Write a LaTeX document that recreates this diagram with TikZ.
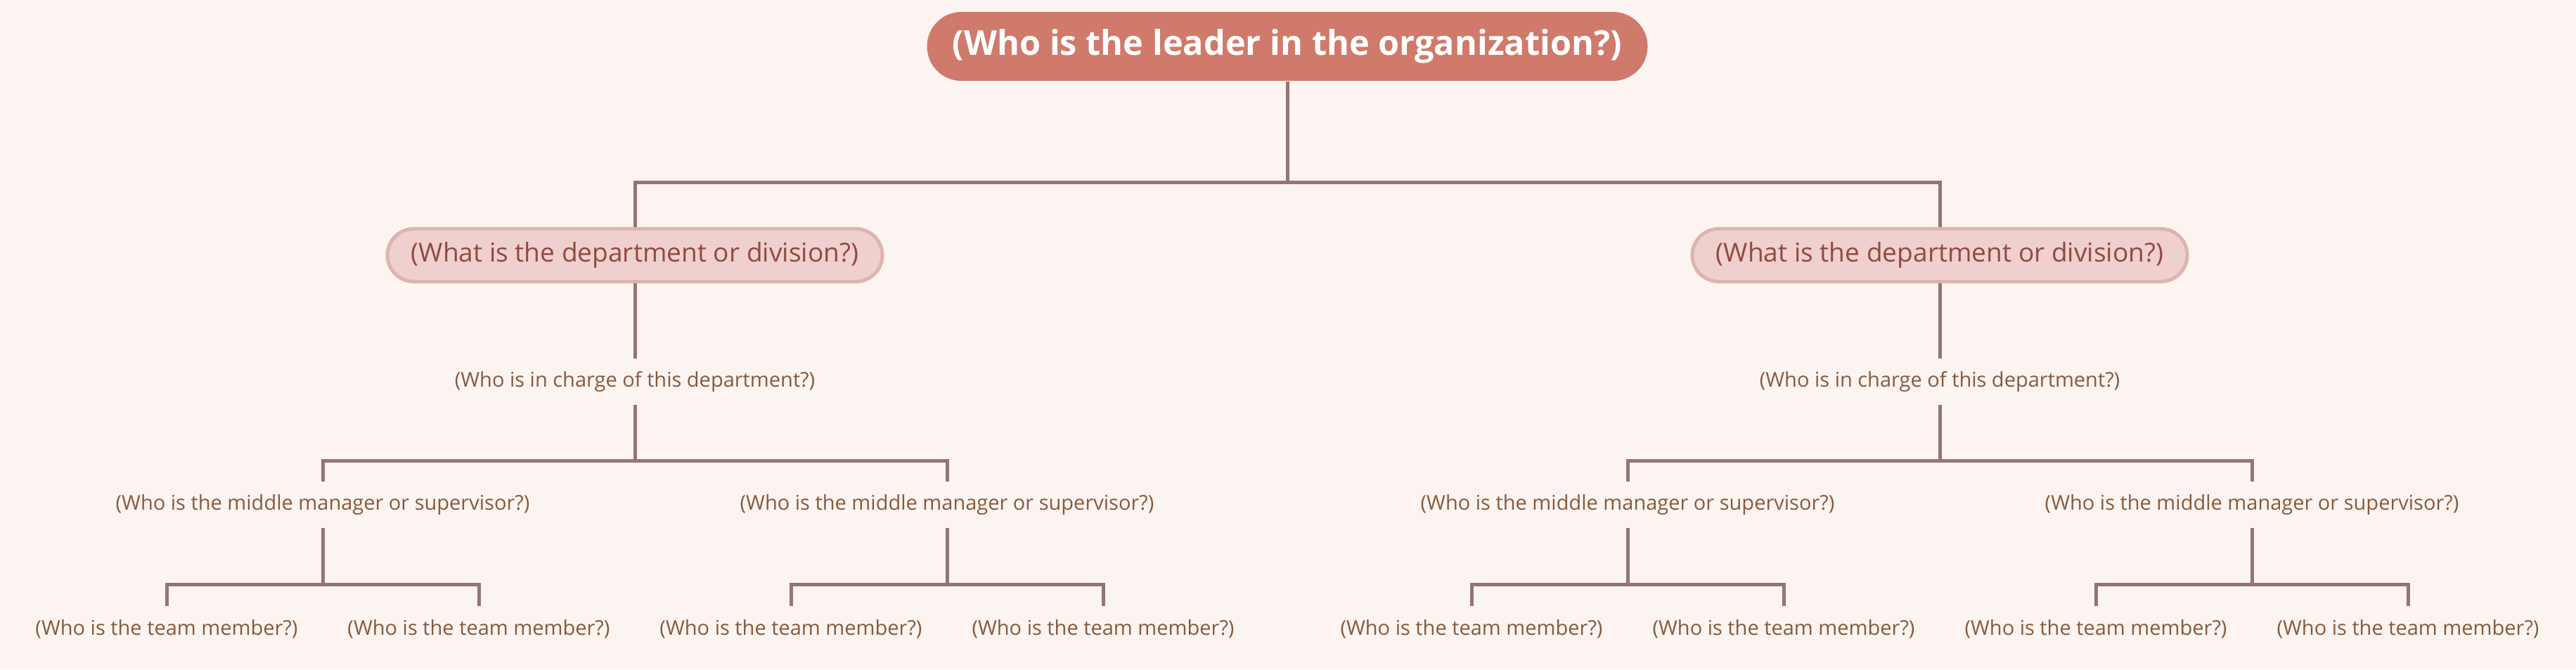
\documentclass[tikz,border=0pt]{standalone}
\usepackage{fontspec}
\setmainfont{Open Sans}
\usetikzlibrary{positioning}
\definecolor{bgpink}{HTML}{FCF4F1}
\definecolor{rootred}{HTML}{CF7A6A}
\definecolor{deptfill}{HTML}{F0D0CE}
\definecolor{deptline}{HTML}{DDB4AF}
\definecolor{depttext}{HTML}{8F4A42}
\definecolor{asktextc}{HTML}{875A3C}
\definecolor{linkc}{HTML}{947572}

\begin{document}
\begin{tikzpicture}[
    rootbox/.style={fill=rootred, text=white, font=\fontsize{13.85}{17}\selectfont\bfseries,
        rounded corners=0.49cm, minimum width=10.25cm, minimum height=0.98cm, inner sep=0pt},
    deptbox/.style={fill=deptfill, draw=deptline, line width=0.05cm, text=depttext,
        font=\fontsize{10.55}{13}\selectfont, rounded corners=0.375cm,
        minimum width=7.04cm, minimum height=0.75cm, inner sep=0pt},
    asktext/.style={text=asktextc, font=\fontsize{8.25}{10}\selectfont,
        minimum height=0.64cm, inner sep=0pt},
    link/.style={draw=linkc, line width=0.05cm},
]
    % background, units of cm (1 px = 0.01 cm)
    \fill[bgpink] (0,0) rectangle (36.64,9.52);

    \node[rootbox] (root) at (18.31,8.86) {(Who is the leader in the organization?)};
    \coordinate (busA) at (18.31,6.92);
    \draw[link] (root.south) -- (busA);

    \foreach \s/\x in {L/9.03,R/27.59}{
        \node[deptbox] (dept\s) at (\x,5.89) {(What is the department or division?)};
        \node[asktext] (charge\s) at (\x,4.09) {(Who is in charge of this department?)};
        \draw[link] (dept\s.south) -- (charge\s.north);
        \coordinate (busB\s) at (\x,2.97);
        \draw[link] (charge\s.south) -- (busB\s);
        \foreach \m/\dx in {1/-4.44,2/4.44}{
            \pgfmathsetmacro{\mx}{\x+\dx}  % manager column
            \node[asktext] (mgr\s\m) at (\mx,2.34) {(Who is the middle manager or supervisor?)};
            \coordinate (busC\s\m) at (\mx,1.21);
            \draw[link] (mgr\s\m.south) -- (busC\s\m);
            \foreach \t/\tx in {1/-2.22,2/2.22}{
                \pgfmathsetmacro{\px}{\mx+\tx}  % team member column
                \node[asktext] (team\s\m\t) at (\px,0.57) {(Who is the team member?)};
            }
            \draw[link] (team\s\m1.north) |- (busC\s\m) -| (team\s\m2.north);
        }
        \draw[link] (mgr\s1.north) |- (busB\s) -| (mgr\s2.north);
    }
    \draw[link] (deptL.north) |- (busA) -| (deptR.north);
\end{tikzpicture}
\end{document}
